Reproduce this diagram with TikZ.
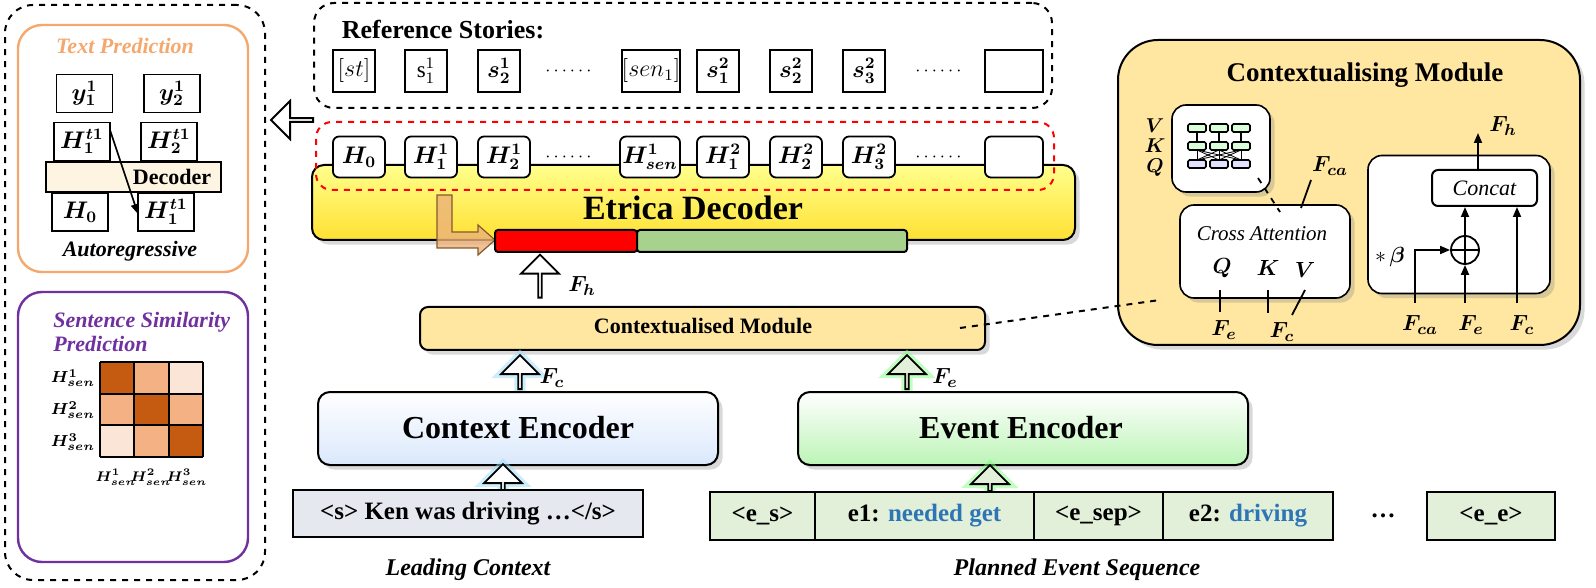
\documentclass[tikz,border=0pt]{standalone}
\usepackage{fontspec}
\usepackage{amsmath,bm}
\setmainfont{Liberation Serif}
\usetikzlibrary{shapes.arrows,arrows.meta,shadows}
\definecolor{orng}{HTML}{F4A86E}
\definecolor{purp}{HTML}{7030A0}
\definecolor{ydark}{HTML}{C55A11}
\definecolor{ymed}{HTML}{F4B183}
\definecolor{ylight}{HTML}{FBE5D6}
\definecolor{cmod}{HTML}{FFE08A}
\definecolor{lblue}{HTML}{DAE8FC}
\definecolor{lgreen}{HTML}{E2F0D9}
\definecolor{evblue}{HTML}{2E75B6}
\definecolor{gbar}{HTML}{A9D18E}
\begin{document}
\begin{tikzpicture}[x=0.5pt,y=-0.5pt,
  sq/.style={draw,line width=0.9pt,fill=white,inner sep=0pt,minimum width=21pt,minimum height=21pt,font=\fontsize{11.5}{12}\selectfont},
  rb/.style={sq,rounded corners=3pt,minimum height=20.5pt,minimum width=26pt},
  lb/.style={draw,line width=0.9pt,fill=white,inner sep=0pt,minimum width=28pt,minimum height=19pt,font=\fontsize{12}{13}\selectfont},
  ev/.style={draw,line width=1pt,fill=lgreen,inner sep=0pt,minimum height=24pt,font=\bfseries\fontsize{12.5}{13}\selectfont},
  hup/.style={single arrow,draw,line width=0.9pt,fill=white,shape border rotate=90,minimum width=19pt,single arrow head extend=4.5pt,inner sep=0pt},
  lab/.style={font=\fontsize{11}{12}\selectfont,inner sep=1pt},
  dts/.style={font=\fontsize{9}{10}\selectfont},
  wb/.style={draw,line width=0.8pt,fill=white,rounded corners=7pt,drop shadow={opacity=0.3}},
  ar/.style={-{Triangle[length=5pt,width=4pt]},line width=0.9pt}]
\useasboundingbox (0,0) rectangle (1596,588);
% ---------- left panel ----------
\node[draw,dashed,line width=1pt,rounded corners=14pt,minimum width=130pt,minimum height=287.5pt] (leftp) at (135,292.5) {};
\node[draw=orng,line width=1.2pt,rounded corners=12pt,minimum width=115pt,minimum height=123.5pt] (tp) at (133,148.5) {};
\node[text=orng,font=\bfseries\itshape\fontsize{11}{12}\selectfont] (tpt) at (125,46) {Text Prediction};
\node[lb] (y1) at (84.5,93.5) {$\bm{y_1^1}$};
\node[lb] (y2) at (172,93.5) {$\bm{y_2^1}$};
\node[lb] (h1a) at (82,141.5) {$\bm{H_1^{t1}}$};
\node[lb] (h2a) at (169,141.5) {$\bm{H_2^{t1}}$};
\node[draw,line width=0.9pt,fill=ylight!60!cmod!40,minimum width=87.5pt,minimum height=15pt,inner sep=0pt] (dec) at (133.5,177) {};
\node[font=\bfseries\fontsize{11}{12}\selectfont] (dect) at (172,177) {Decoder};
\node[lb] (h0a) at (80,212) {$\bm{H_0}$};
\node[lb] (h1b) at (166,212) {$\bm{H_1^{t1}}$};
\draw[ar,line width=0.8pt] (110,130) -- (138,214);
\node[font=\bfseries\itshape\fontsize{11}{12}\selectfont] (autor) at (130,251) {Autoregressive};
\node[draw=purp,line width=1.2pt,rounded corners=12pt,minimum width=115pt,minimum height=135pt] (ssp) at (133,427) {};
\node[text=purp,font=\bfseries\itshape\fontsize{11}{12}\selectfont,align=left,anchor=north west,inner sep=0pt] (sspt) at (53,312) {Sentence Similarity\\Prediction};
\foreach \r/\c/\col in {0/0/ydark,0/1/ymed,0/2/ylight,1/0/ymed,1/1/ydark,1/2/ymed,2/0/ylight,2/1/ymed,2/2/ydark}{
  \fill[\col] (100+\c*34.33,362+\r*31.67) rectangle ++(34.33,31.67);}
\foreach \i in {0,1,2,3}{
  \draw[line width=1.1pt] (100+\i*34.33,362) -- (100+\i*34.33,457);
  \draw[line width=1.1pt] (100,362+\i*31.67) -- (203,362+\i*31.67);}
\foreach \i/\y in {1/378,2/410,3/442}{\node[font=\fontsize{8.5}{9}\selectfont,inner sep=0pt] (rl\i) at (73,\y) {$\bm{H_{sen}^{\i}}$};}
\foreach \i/\x in {1/116,2/151,3/187}{\node[font=\fontsize{7.5}{8}\selectfont,inner sep=0pt] (cl\i) at (\x,477) {$\bm{H_{sen}^{\i}}$};}
% left hollow arrow
\node[single arrow,draw,line width=1pt,fill=white,shape border rotate=180,minimum width=19pt,single arrow head extend=4.5pt,minimum height=21pt,inner sep=0pt] (larr) at (293,120) {};
% ---------- reference stories ----------
\node[draw,dashed,line width=1pt,rounded corners=10pt,minimum width=369pt,minimum height=52.5pt] (refbox) at (683,55.5) {};
\node[font=\bfseries\fontsize{13}{14}\selectfont] (reft) at (443,30) {Reference Stories:};
\node[sq] (st) at (354,71) {$[st]$};
\node[sq] (s11) at (426,71) {$\mathrm{s}_1^1$};
\node[sq] (s21) at (499,71) {$\bm{s_2^1}$};
\node[dts] (d1) at (570,71) {$\cdots\cdots$};
\node[sq,minimum width=29pt] (sen1) at (651,71) {$[sen_1]$};
\node[sq] (s12) at (718,71) {$\bm{s_1^2}$};
\node[sq] (s22) at (791,71) {$\bm{s_2^2}$};
\node[sq] (s32) at (864,71) {$\bm{s_3^2}$};
\node[dts] (d2) at (940,71) {$\cdots\cdots$};
\node[sq,minimum width=29pt] (blk1) at (1014,71) {};
% ---------- decoder ----------
\node[draw,line width=1pt,rounded corners=6pt,top color=yellow!45,bottom color=yellow!70!orange!80,minimum width=381.5pt,minimum height=37.5pt,drop shadow={opacity=0.3}] (etr) at (693.5,202.5) {};
\node[font=\bfseries\fontsize{17}{18}\selectfont] (etrt) at (693,208) {Etrica Decoder};
\node[draw=red,dashed,line width=1pt,rounded corners=8pt,minimum width=369pt,minimum height=34pt] (redbox) at (685,156) {};
\node[rb] (H0) at (359,157) {$\bm{H_0}$};
\node[rb] (H11) at (431,157) {$\bm{H_1^1}$};
\node[rb] (H21) at (504,157) {$\bm{H_2^1}$};
\node[dts] (d3) at (570,157) {$\cdots\cdots$};
\node[rb,minimum width=30pt] (Hs) at (650,157) {$\bm{H_{sen}^1}$};
\node[rb] (H12) at (723,157) {$\bm{H_1^2}$};
\node[rb] (H22) at (796,157) {$\bm{H_2^2}$};
\node[rb] (H32) at (869,157) {$\bm{H_3^2}$};
\node[dts] (d4) at (940,157) {$\cdots\cdots$};
\node[rb,minimum width=29pt] (blk2) at (1014,157) {};
\fill[orange!50!brown!60,opacity=0.8] (437,195) -- (452,195) -- (452,232) -- (478,232) -- (478,225) -- (495,240) -- (478,255) -- (478,248) -- (437,248) -- cycle;
\draw[line width=0.6pt,brown!70!black] (437,195) -- (452,195) -- (452,232) -- (478,232) -- (478,225) -- (495,240) -- (478,255) -- (478,248) -- (437,248) -- cycle;
\node[draw,line width=1pt,fill=red,rounded corners=1.5pt,minimum width=71pt,minimum height=11pt,inner sep=0pt] (redbar) at (566,241) {};
\node[draw,line width=1pt,fill=gbar,rounded corners=1.5pt,minimum width=135pt,minimum height=11pt,inner sep=0pt] (grbar) at (772,241) {};
\node[hup,minimum height=21.5pt] (fharr) at (540,277) {};
\node[lab] (fh) at (582,286) {$\bm{F_h}$};
\node[draw,line width=1pt,fill=cmod!80,rounded corners=4pt,minimum width=282.5pt,minimum height=21.5pt,drop shadow={opacity=0.3}] (cm) at (702.5,328.5) {};
\node[font=\bfseries\fontsize{11}{12}\selectfont] (cmt) at (703,326) {Contextualised Module};
% encoders
\node[hup,minimum height=17pt,preaction={draw=cyan!40,line width=4pt,opacity=0.5}] (fcarr) at (520,373) {};
\node[lab] (fc) at (552,378) {$\bm{F_c}$};
\node[hup,minimum height=17pt,fill=lgreen,preaction={draw=green!50,line width=4pt,opacity=0.5}] (fearr) at (907,373) {};
\node[lab] (fe) at (945,378) {$\bm{F_e}$};
\node[draw,line width=1pt,rounded corners=6pt,top color=white,bottom color=lblue,minimum width=200pt,minimum height=36.5pt,drop shadow={opacity=0.3}] (ce) at (518,428.5) {};
\node[font=\bfseries\fontsize{16}{17}\selectfont] (cet) at (518,428) {Context Encoder};
\node[draw,line width=1pt,rounded corners=6pt,top color=white,bottom color=lgreen!80!green!90,minimum width=225pt,minimum height=36.5pt,drop shadow={opacity=0.3}] (ee) at (1023,428.5) {};
\node[font=\bfseries\fontsize{16}{17}\selectfont] (eet) at (1021,428) {Event Encoder};
\node[hup,minimum height=13pt,preaction={draw=cyan!40,line width=4pt,opacity=0.5}] (a3) at (503,478) {};
\node[hup,minimum height=13pt,fill=lgreen,preaction={draw=green!50,line width=4pt,opacity=0.5}] (a4) at (990,479) {};
\node[draw,line width=1pt,fill=lblue!70!gray!40,minimum width=175pt,minimum height=23.5pt,inner sep=0pt,font=\bfseries\fontsize{12.5}{13}\selectfont] (lc) at (468,513.5) {<s> Ken was driving …</s>};
\node[ev,minimum width=52.5pt] (es) at (762.5,516) {<e\_s>};
\node[ev,minimum width=109.5pt] (e1) at (924.5,516) {e1: \textcolor{evblue}{needed get}};
\node[ev,minimum width=64.5pt] (esep) at (1098.5,516) {<e\_sep>};
\node[ev,minimum width=85pt] (e2) at (1248,516) {e2: \textcolor{evblue}{driving}};
\node[font=\bfseries\fontsize{12.5}{13}\selectfont] (edots) at (1383,516) {…};
\node[ev,minimum width=64pt] (ee2) at (1491,516) {<e\_e>};
\node[font=\bfseries\itshape\fontsize{12}{13}\selectfont] (lct) at (468,570) {Leading Context};
\node[font=\bfseries\itshape\fontsize{12}{13}\selectfont] (pes) at (1077,570) {Planned Event Sequence};
% ---------- contextualising module ----------
\node[draw,line width=1pt,fill=cmod!80,rounded corners=20pt,minimum width=231pt,minimum height=152.5pt,drop shadow={opacity=0.3}] (cxm) at (1349,192.5) {};
\node[font=\bfseries\fontsize{13.5}{14}\selectfont] (cxt) at (1365,75) {Contextualising Module};
\node[wb,minimum width=49pt,minimum height=43.5pt] (icon) at (1221,148.5) {};
\foreach \r/\col in {0/green!15,1/green!15,2/blue!12}{
  \foreach \c in {0,1,2}{\draw[line width=0.8pt,fill=\col,rounded corners=0.8pt] (1188+\c*22,124+\r*18) rectangle ++(18,8);}}
\foreach \c in {0,1,2}{\draw[line width=0.8pt] (1197+\c*22,132) -- (1197+\c*22,142);}
\foreach \a in {0,1,2}{\foreach \b in {0,1,2}{\draw[line width=0.4pt] (1197+\a*22,150) -- (1197+\b*22,160);}}
\node[font=\fontsize{10}{11}\selectfont,align=center,inner sep=0pt] (vkq) at (1155,148) {$\bm{V}$\\[-1pt]$\bm{K}$\\[-1pt]$\bm{Q}$};
\node[wb,minimum width=85pt,minimum height=46.5pt] (ca) at (1265,251.5) {};
\node[font=\itshape\fontsize{10.5}{11}\selectfont] (cat) at (1262,234) {Cross Attention};
\node[lab] (q) at (1222,268) {$\bm{Q}$};
\node[lab] (k) at (1268,268) {$\bm{K}$};
\node[lab] (v) at (1305,270) {$\bm{V}$};
\draw[dashed,line width=0.9pt] (1258,178) -- (1280,212);
\node[lab] (fca1) at (1330,166) {$\bm{F_{ca}}$};
\draw[line width=0.9pt] (1311,180) -- (1301,208);
\draw[line width=0.9pt] (1220,290) -- (1220,312);
\draw[line width=0.9pt] (1268,290) -- (1268,313);
\draw[line width=0.9pt] (1305,290) -- (1292,315);
\node[lab] (fe1) at (1224,330) {$\bm{F_e}$};
\node[lab] (fc1) at (1282,332) {$\bm{F_c}$};
\node[wb,minimum width=91pt,minimum height=69pt] (rbx) at (1459,224.5) {};
\node[draw,line width=1pt,fill=white,rounded corners=3pt,minimum width=52.5pt,minimum height=18pt,font=\itshape\fontsize{11}{12}\selectfont] (concat) at (1484.5,188) {Concat};
\node[draw,circle,line width=0.9pt,minimum size=14pt,inner sep=0pt] (plus) at (1465,250) {};
\draw[line width=0.9pt] (plus.north) -- (plus.south) (plus.west) -- (plus.east);
\coordinate (fhtop) at (1478,133);
\draw[ar] (concat.north -| fhtop) -- (fhtop);
\node[lab] (fh2) at (1503,126) {$\bm{F_h}$};
\draw[ar] (plus.north) -- (plus.north |- concat.south);
\coordinate (fcb) at (1517,303);
\coordinate (feb) at (1465,303);
\coordinate (fcab) at (1415,303);
\draw[ar] (feb) -- (plus.south);
\draw[ar] (fcb) -- (fcb |- concat.south);
\draw[ar] (fcab) |- (plus.west);
\node[lab] (beta) at (1390,257) {$\ast\,\bm{\beta}$};
\node[lab] (fca2) at (1420,325) {$\bm{F_{ca}}$};
\node[lab] (fe2) at (1471,325) {$\bm{F_e}$};
\node[lab] (fc2) at (1522,325) {$\bm{F_c}$};
\draw[dashed,line width=1pt] (960,328) -- (1160,300);
\end{tikzpicture}
\end{document}
